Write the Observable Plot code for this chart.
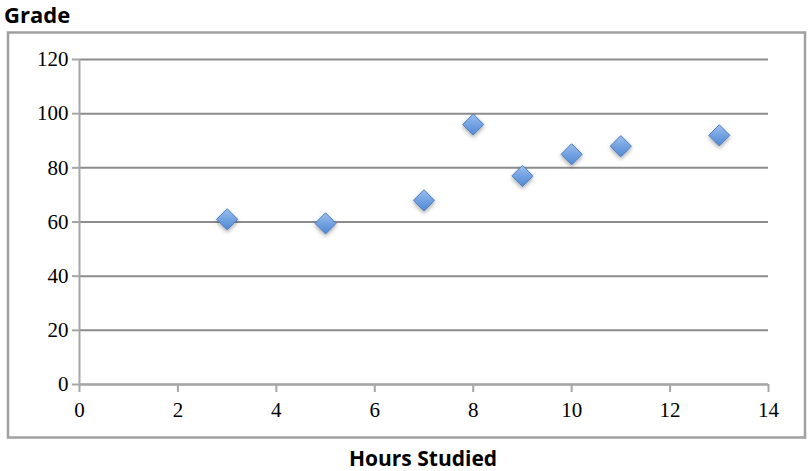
<!DOCTYPE html>
<html>
<head>
<meta charset="utf-8">
<script src="https://cdn.jsdelivr.net/npm/d3@7"></script>
<script src="https://cdn.jsdelivr.net/npm/@observablehq/plot@0.6"></script>
<style>
  html, body { margin: 0; padding: 0; background: #fff; }
  #chart { width: 812px; height: 471px; overflow: hidden; }
</style>
</head>
<body>
<div id="chart"></div>
<script>
const hours = [3, 5, 7, 8, 9, 10, 11, 13];
const grades = [61, 59.5, 68, 96, 77, 85, 88, 92];
const xTicks = [0, 2, 4, 6, 8, 10, 12, 14];
const yTicks = [0, 20, 40, 60, 80, 100, 120];
const titleY = "Grade";
const titleX = "Hours Studied";

const data = hours.map((h, i) => ({hours: h, grade: grades[i]}));

const tickFont = "'Liberation Serif', 'DejaVu Serif', serif";

const plot = Plot.plot({
  width: 812,
  height: 471,
  marginLeft: 79,
  marginRight: 44,
  marginTop: 59,
  marginBottom: 87,
  style: {background: "transparent", fontFamily: tickFont, fontSize: "21px", color: "#000"},
  x: {domain: [0, 14], ticks: xTicks, label: null},
  y: {domain: [0, 120], ticks: yTicks, label: null},
  marks: [
    Plot.gridY(yTicks, {stroke: "#8c8c8c", strokeOpacity: 1, strokeWidth: 2}),
    Plot.ruleX([0], {stroke: "#a6a6a6", strokeWidth: 2, y1: 0, y2: 120}),
    Plot.ruleY([0], {stroke: "#a6a6a6", strokeWidth: 2}),
    Plot.axisY(yTicks, {tickSize: 7, stroke: "#a6a6a6", strokeWidth: 2, tickPadding: 4, fontSize: 21, fill: "#000"}),
    Plot.axisX(xTicks, {tickSize: 8, stroke: "#a6a6a6", strokeWidth: 2, tickPadding: 10, fontSize: 21, fill: "#000"}),
    Plot.dot(data, {x: "hours", y: "grade", symbol: "diamond2", r: 9.5,
      fill: "url(#diamondGrad)", stroke: "#4a7ebb", strokeWidth: 1})
  ]
});

document.getElementById("chart").appendChild(plot);

const svg = d3.select(plot);
const defs = svg.insert("defs", ":first-child");
const grad = defs.append("linearGradient").attr("id", "diamondGrad")
  .attr("x1", "0").attr("y1", "0").attr("x2", "0").attr("y2", "1");
grad.append("stop").attr("offset", "0%").attr("stop-color", "#9dbff0");
grad.append("stop").attr("offset", "55%").attr("stop-color", "#6f9fe0");
grad.append("stop").attr("offset", "100%").attr("stop-color", "#5289d6");
const filt = defs.append("filter").attr("id", "shadow")
  .attr("x", "-50%").attr("y", "-50%").attr("width", "200%").attr("height", "200%");
filt.append("feDropShadow").attr("dx", 0).attr("dy", 2).attr("stdDeviation", 2)
  .attr("flood-color", "#000").attr("flood-opacity", 0.35);

svg.selectAll("g[aria-label='dot'] path").attr("filter", "url(#shadow)");

// outer chart-area border
svg.insert("rect", "defs + *")
  .attr("x", 8).attr("y", 32.5).attr("width", 797).attr("height", 405)
  .attr("fill", "none").attr("stroke", "#a0a0a0").attr("stroke-width", 2.5);

svg.append("text").text(titleY)
  .attr("x", 4).attr("y", 23)
  .attr("text-anchor", "start")
  .attr("font-family", "'Open Sans', 'DejaVu Sans', sans-serif")
  .attr("font-weight", "bold").attr("font-size", 22).attr("fill", "#000");

svg.append("text").text(titleX)
  .attr("x", 423).attr("y", 466)
  .attr("text-anchor", "middle")
  .attr("font-family", "'Open Sans', 'DejaVu Sans', sans-serif")
  .attr("font-weight", "bold").attr("font-size", 21).attr("fill", "#000");
</script>
</body>
</html>
